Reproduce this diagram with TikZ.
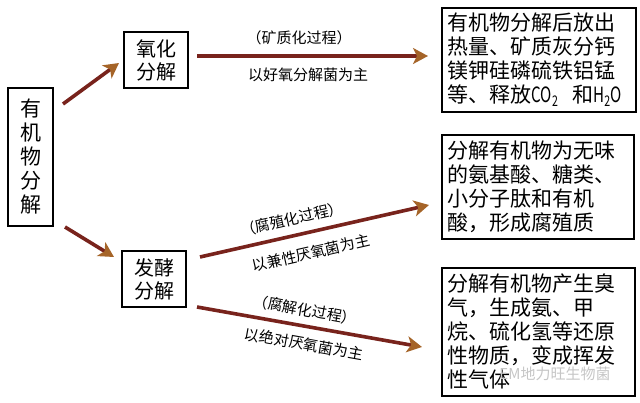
\documentclass[tikz,border=0pt]{standalone}
\usepackage{fontspec}
\setmainfont{Noto Sans CJK SC}
\usetikzlibrary{arrows.meta}
\definecolor{shaft}{RGB}{120,35,28}
\definecolor{headc}{RGB}{165,100,40}
\newcommand{\narrowtxt}[1]{\scalebox{0.72}[1]{#1}}
\tikzset{
  flowarrow/.style={draw=shaft, line width=3.6pt,
    -{Stealth[length=15pt,width=16pt,inset=4pt,color=headc,fill=headc]}},
  blackbox/.style={draw=black, line width=1.6pt, inner sep=0pt},
  bigtext/.style={font=\fontsize{21}{24}\selectfont},
  midtext/.style={font=\fontsize{20}{23}\selectfont},
  lbl/.style={font=\fontsize{15}{16}\selectfont, inner sep=0pt},
}
\begin{document}
\begin{tikzpicture}[x=1pt,y=-1pt]
\useasboundingbox (0,0) rectangle (640,403);
\fill[white] (0,0) rectangle (640,403);
% left box
\node[blackbox, bigtext, minimum width=45pt, minimum height=138pt, align=center] (org) at (30.5,157) {有\\机\\物\\分\\解};
% second level
\node[blackbox, midtext, minimum width=64pt, minimum height=56pt, align=center] (oxi) at (156,60) {氧化\\分解};
\node[blackbox, midtext, minimum width=64pt, minimum height=56pt, align=center] (fer) at (154,279) {发酵\\分解};
% right boxes
\node[blackbox, bigtext, anchor=north west, minimum width=194pt, minimum height=104pt, text width=182pt, align=left, inner xsep=6pt] (r1) at (441,7)
  {有机物分解后放出\\热量、矿质灰分钙\\镁钾硅磷硫铁铝锰\\等、释放\narrowtxt{CO\textsubscript{2}}\ \ 和\narrowtxt{H\textsubscript{2}O}};
\node[blackbox, bigtext, anchor=north west, minimum width=192pt, minimum height=104pt, text width=180pt, align=left, inner xsep=6pt] (r2) at (441,134)
  {分解有机物为无味\\的氨基酸、糖类、\\小分子肽和有机\\酸，形成腐殖质};
\node[blackbox, bigtext, anchor=north west, minimum width=193pt, minimum height=128pt, text width=181pt, align=left, inner xsep=6pt] (r3) at (441,267)
  {分解有机物产生臭\\气，生成氨、甲\\烷、硫化氢等还原\\性物质，变成挥发\\性气体};
% connector coordinates
\coordinate (a1s) at (63,104);
\coordinate (a1e) at (119,63);
\coordinate (a2s) at (65,227);
\coordinate (a2e) at (114,257);
\coordinate (t1s) at (197,56);
\coordinate (t1e) at (428,56);
\coordinate (t2s) at (200,257);
\coordinate (t2e) at (429,205);
\coordinate (t3s) at (197,307);
\coordinate (t3e) at (422,347);
\draw[flowarrow] (a1s) -- (a1e);
\draw[flowarrow] (a2s) -- (a2e);
\draw[flowarrow] (t1s) -- (t1e);
\draw[flowarrow] (t2s) -- (t2e);
\draw[flowarrow] (t3s) -- (t3e);
% labels
\node[lbl] (l1a) at (299,38) {（矿质化过程）};
\node[lbl] (l1b) at (308,75) {以好氧分解菌为主};
\node[lbl, rotate=12.9] (l2a) at (292,219) {（腐殖化过程）};
\node[lbl, rotate=12.9] (l2b) at (311,253) {以兼性厌氧菌为主};
\node[lbl, rotate=-10.2] (l3a) at (305,310) {（腐解化过程）};
\node[lbl, rotate=-10.2] (l3b) at (304,344) {以绝对厌氧菌为主};
% watermark
\node[font=\fontsize{15}{16}\selectfont, text=gray!45, inner sep=0pt] (wm) at (555,374) {EM地力旺生物菌};
\end{tikzpicture}
\end{document}
